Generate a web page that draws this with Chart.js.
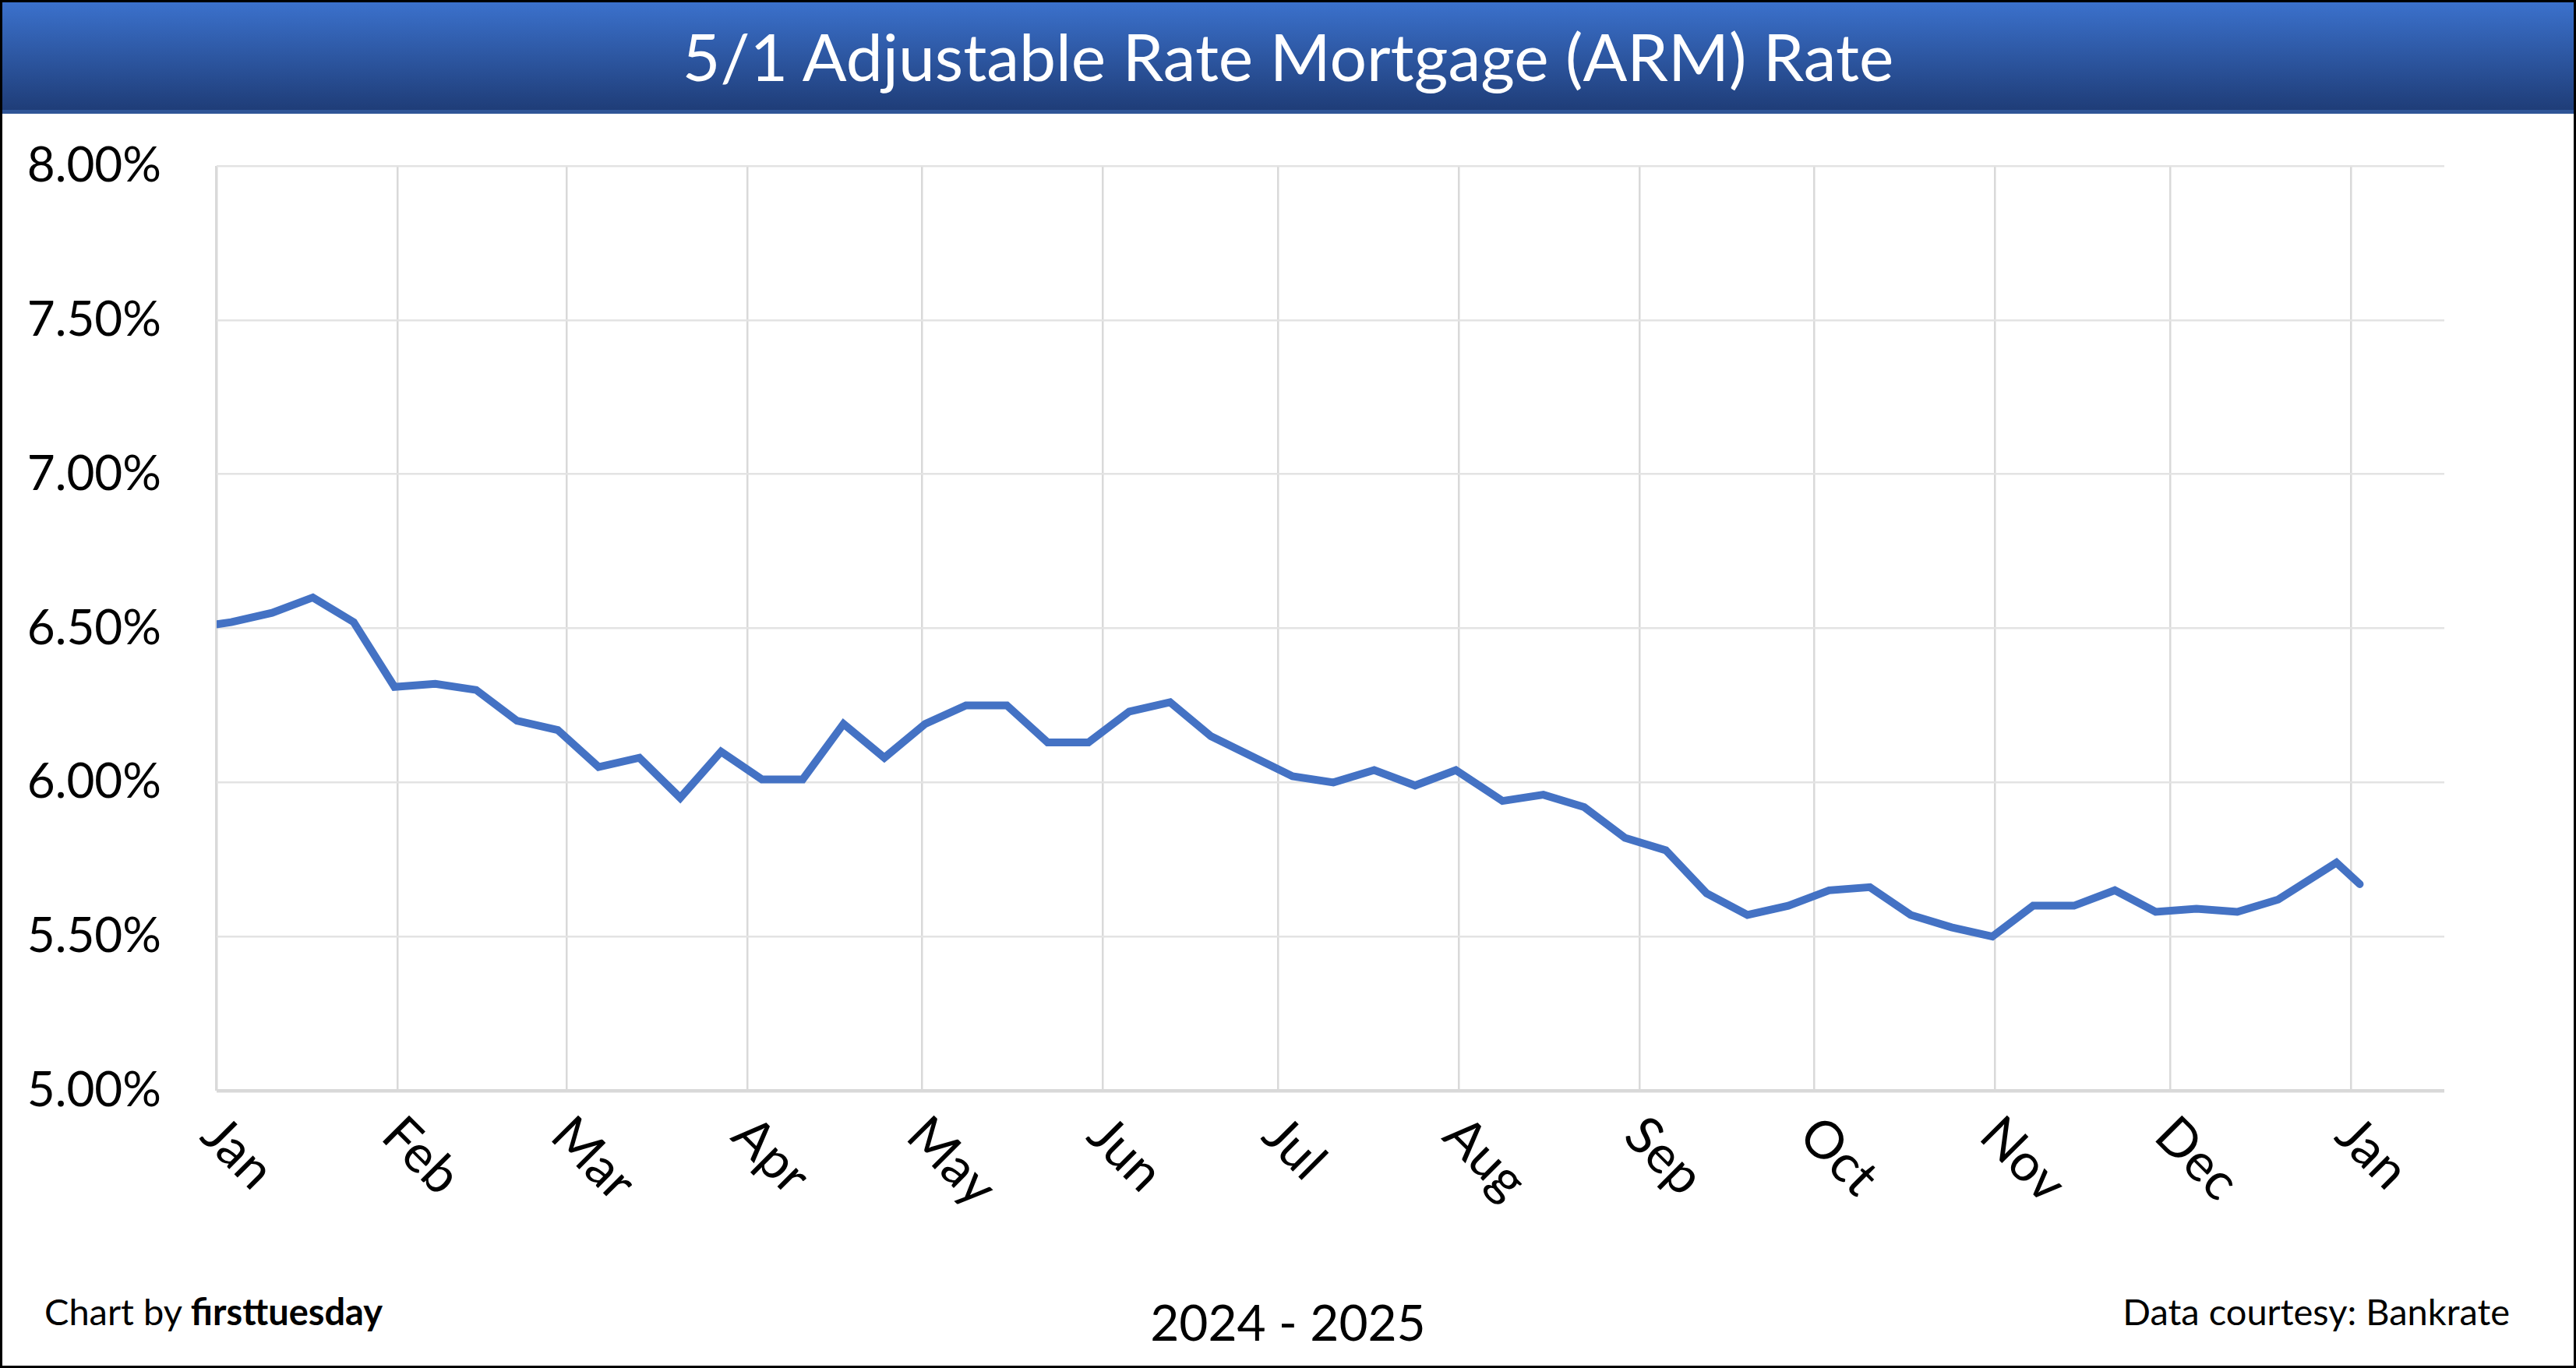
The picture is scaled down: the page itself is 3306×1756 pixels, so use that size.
<!DOCTYPE html>
<html>
<head>
<meta charset="utf-8">
<script src="https://cdn.jsdelivr.net/npm/chart.js@4.4.1/dist/chart.umd.min.js"></script>
<style>
    html, body { margin: 0; padding: 0; background: #fff; }
    body { position: relative; width: 3306px; height: 1756px; overflow: hidden; font-family: Lato, "Open Sans", sans-serif; }
    #frame { position: absolute; left: 0; top: 0; width: 3306px; height: 1756px; box-sizing: border-box; border: 3px solid #000; }
    #titlebar { height: 138px; background: linear-gradient(#3b71cc, #1f3d78); border-bottom: 5px solid #2f5597;
                color: #fff; font-size: 84px; text-align: center; line-height: 138px; white-space: nowrap; }
    .foot { position: absolute; color: #000; white-space: nowrap; }
    #byline { left: 57px; top: 1655px; font-size: 47px; }
    #period { left: 0; width: 3306px; top: 1658px; text-align: center; font-size: 64px; }
    #source { right: 85px; top: 1655px; font-size: 47px; }
    #chart { position: absolute; left: 0; top: 0; }
</style>
</head>
<body>
<div id="frame">
    <div id="titlebar">5/1 Adjustable Rate Mortgage (ARM) Rate</div>
</div>
<div class="foot" id="byline">Chart by <b>firsttuesday</b></div>
<div class="foot" id="period">2024 - 2025</div>
<div class="foot" id="source">Data courtesy: Bankrate</div>
<canvas id="chart" width="3306" height="1756"></canvas>

<script>
(function () {
    "use strict";

    // weekly 5/1 ARM rate readings (Bankrate)
    var dates = ["2023-12-27", "2024-01-03", "2024-01-10", "2024-01-17", "2024-01-24", "2024-01-31",
        "2024-02-07", "2024-02-14", "2024-02-21", "2024-02-28", "2024-03-06", "2024-03-13",
        "2024-03-20", "2024-03-27", "2024-04-03", "2024-04-10", "2024-04-17", "2024-04-24",
        "2024-05-01", "2024-05-08", "2024-05-15", "2024-05-22", "2024-05-29", "2024-06-05",
        "2024-06-12", "2024-06-19", "2024-07-03", "2024-07-10", "2024-07-17", "2024-07-24",
        "2024-07-31", "2024-08-08", "2024-08-15", "2024-08-22", "2024-08-29", "2024-09-05",
        "2024-09-12", "2024-09-19", "2024-09-26", "2024-10-03", "2024-10-10", "2024-10-17",
        "2024-10-24", "2024-10-31", "2024-11-07", "2024-11-14", "2024-11-21", "2024-11-28",
        "2024-12-05", "2024-12-12", "2024-12-19", "2024-12-29", "2025-01-02"];
    var rates = [6.50, 6.52, 6.55, 6.60, 6.52, 6.31,
        6.32, 6.30, 6.20, 6.17, 6.05, 6.08,
        5.95, 6.10, 6.01, 6.01, 6.19, 6.08,
        6.19, 6.25, 6.25, 6.13, 6.13, 6.23,
        6.26, 6.15, 6.02, 6.00, 6.04, 5.99,
        6.04, 5.94, 5.96, 5.92, 5.82, 5.78,
        5.64, 5.57, 5.60, 5.65, 5.66, 5.57,
        5.53, 5.50, 5.60, 5.60, 5.65, 5.58,
        5.59, 5.58, 5.62, 5.74, 5.67];

    var monthStarts = ["2024-01-01", "2024-02-01", "2024-03-01", "2024-04-01", "2024-05-01", "2024-06-01",
        "2024-07-01", "2024-08-01", "2024-09-01", "2024-10-01", "2024-11-01", "2024-12-01", "2025-01-01"];
    var monthLabels = ["Jan", "Feb", "Mar", "Apr", "May", "Jun", "Jul", "Aug", "Sep", "Oct", "Nov", "Dec", "Jan"];
    var axisEnd = "2025-01-17";
    var rateMin = 5, rateMax = 8, rateStep = 0.5;

    function dayOf(s) {
        var p = s.split("-");
        return (Date.UTC(+p[0], +p[1] - 1, +p[2]) - Date.UTC(2024, 0, 1)) / 86400000;
    }

    var points = [];
    for (var i = 0; i < dates.length; i++)
        points.push({x: dayOf(dates[i]) + 0.5, y: rates[i]}); // mid-day like a date axis

    var monthTicks = monthStarts.map(function (d) { return {value: dayOf(d)}; });

    // month names drawn slanted down-right from each gridline
    var monthLabelPlugin = {
        id: "monthLabels",
        afterDraw: function (chart) {
            var xs = chart.scales.x, ctx = chart.ctx;
            ctx.save();
            ctx.font = "67px Lato";
            ctx.fillStyle = "#000";
            ctx.textAlign = "left";
            ctx.textBaseline = "middle";
            for (var j = 0; j < monthStarts.length; j++) {
                var px = xs.getPixelForValue(dayOf(monthStarts[j]));
                ctx.save();
                ctx.translate(px - 8, chart.chartArea.bottom + 46);
                ctx.rotate(Math.PI / 4);
                ctx.fillText(monthLabels[j], 0, 0);
                ctx.restore();
            }
            ctx.restore();
        }
    };

    var ctx = document.getElementById("chart").getContext("2d");
    new Chart(ctx, {
        type: "line",
        data: {
            datasets: [{
                data: points,
                borderColor: "#4472c4",
                borderWidth: 10,
                pointRadius: 0,
                tension: 0,
                fill: false,
                borderCapStyle: "round",
                borderJoinStyle: "miter",
                clip: {left: 0, top: false, right: false, bottom: false}
            }]
        },
        options: {
            responsive: false,
            animation: false,
            devicePixelRatio: 1,
            layout: {padding: {top: 213, right: 169, bottom: 356, left: 0}},
            plugins: {legend: {display: false}, tooltip: {enabled: false}},
            scales: {
                x: {
                    type: "linear",
                    min: 0,
                    max: dayOf(axisEnd),
                    afterBuildTicks: function (scale) { scale.ticks = monthTicks.slice(); },
                    afterFit: function (scale) { scale.height = 0; },
                    ticks: {display: false},
                    border: {display: false},
                    grid: {
                        drawTicks: false,
                        color: "#d9d9d9",
                        lineWidth: function (c) { return c.index === 0 ? 3.5 : 2.5; }
                    }
                },
                y: {
                    min: rateMin,
                    max: rateMax,
                    afterFit: function (scale) { scale.width = 278; },
                    border: {display: false},
                    ticks: {
                        stepSize: rateStep,
                        padding: 71,
                        color: "#000",
                        font: {family: "Lato", size: 62},
                        callback: function (v) { return v.toFixed(2) + "%"; }
                    },
                    grid: {
                        drawTicks: false,
                        color: function (c) { return c.tick && c.tick.value === rateMin ? "#d9d9d9" : "#e3e3e3"; },
                        lineWidth: function (c) { return c.tick && c.tick.value === rateMin ? 4.5 : 2.5; }
                    }
                }
            }
        },
        plugins: [monthLabelPlugin]
    });
}());
</script>
</body>
</html>
